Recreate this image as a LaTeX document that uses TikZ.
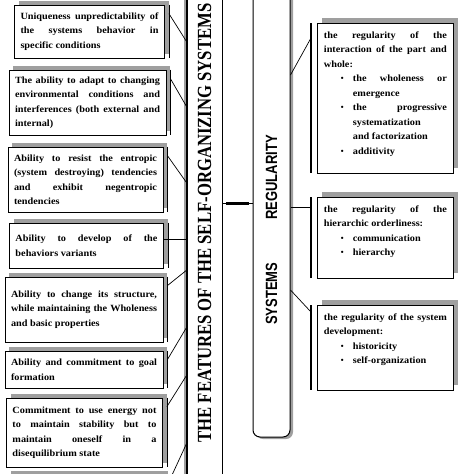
\documentclass[tikz,border=0pt]{standalone}
\usepackage{fontspec}
\setmainfont{Liberation Serif}
\setsansfont{Liberation Sans}
\newfontfamily\wideserif{Liberation Serif}[FakeStretch=1.08]
\usepackage{enumitem}
\usetikzlibrary{positioning,shadows}
\newcommand{\boxfont}{\wideserif\fontsize{9.5}{14.5}\selectfont\bfseries
  \hyphenpenalty=10000 \exhyphenpenalty=10000}
\newcommand{\barfont}{\fontsize{16.7}{20}\selectfont\bfseries}
\newcommand{\regfont}{\fontsize{13}{16}\selectfont\sffamily\bfseries}

\begin{document}
\begin{tikzpicture}[x=1pt, y=-1pt,
  feat/.style={draw, thick, fill=white, align=justify, text width=145pt,
               inner xsep=6pt, font=\boxfont,
               general shadow={fill=gray!75, shadow xshift=4pt, shadow yshift=4pt}},
  law/.style={draw, thick, fill=white, align=justify, text width=123pt,
              inner xsep=6.5pt, inner ysep=8pt, anchor=north west, font=\boxfont,
              general shadow={fill=gray!75, shadow xshift=5pt, shadow yshift=5pt}},
  fbar/.style={draw, thin, fill=white, minimum width=35pt, minimum height=500pt,
               general shadow={fill=gray!75, shadow xshift=-3pt}},
  rbar/.style={draw, line width=1pt, fill=white, rounded corners=7pt,
               minimum width=37pt, minimum height=448pt,
               general shadow={fill=gray!75, shadow xshift=3pt, shadow yshift=-2pt}},
  ln/.style={line width=0.7pt}]
\useasboundingbox (0,0) rectangle (474,474);

% the two bars
\node[fbar] (feat) at (204.5,240) {};
\draw[line width=1.6pt] (feat.north west) -- (feat.south west);
\node[rotate=90, font=\barfont] at (204.5,223)
  {\scalebox{1}[1.2]{THE FEATURES OF THE SELF-ORGANIZING SYSTEMS}};
\node[rbar] (reg) at (271.5,213) {};
\node[rotate=90, font=\regfont] at (271.5,230)
  {\scalebox{1}[1.25]{SYSTEMS\hspace{43pt}REGULARITY}};
\coordinate (lnk) at (0,203);
\draw[ln] (feat.east |- lnk) -- (reg.west |- lnk);
\draw[line width=3pt] ([xshift=4pt]feat.east |- lnk) -- ([xshift=-4pt]reg.west |- lnk);

% features
\node[feat, text width=138pt, minimum height=53pt] (l1) at (89.5,31.5)
  {Uniqueness unpredictability of\linebreak the systems behavior in\linebreak specific conditions};
\node[feat, minimum height=65pt] (l2) at (87.5,102.5)
  {The ability to adapt to changing\linebreak environmental conditions and\linebreak interferences (both external and\linebreak internal)};
\node[feat, text width=143pt, minimum height=65pt] (l3) at (85.5,179.5)
  {Ability to resist the entropic\linebreak (system destroying) tendencies\linebreak and exhibit negentropic\linebreak tendencies};
\node[feat, text width=142pt, minimum height=45pt] (l4) at (86.5,245.5)
  {Ability to develop of the\linebreak behaviors variants};
\node[feat, text width=146pt, minimum height=65pt] (l5) at (84,309.5)
  {Ability to change its structure,\linebreak while maintaining the Wholeness\linebreak and basic properties};
\node[feat, text width=146pt, minimum height=37pt] (l6) at (84,369.5)
  {Ability and commitment to goal\linebreak formation};
\node[feat, text width=144pt, minimum height=69pt] (l7) at (84.5,432.5)
  {Commitment to use energy not\linebreak to maintain stability but to\linebreak maintain oneself in a\linebreak disequilibrium state};
\node[feat, minimum height=60pt, anchor=north] (l8) at (85,475) {};
\foreach \b in {l1,l2,l3,l4,l5,l6,l7,l8}
  \draw[thick] ([xshift=4pt]\b.north east) -- ([xshift=4pt]\b.south east);
\foreach \b/\y in {l1/42,l2/107,l3/183,l5/270,l6/327,l7/375,l8/443}
  \draw[ln] ([xshift=4pt,yshift=-9pt]\b.north east) -- (feat.west |- 0,\y);
\draw[ln] ([yshift=6pt]l4.east) -- ([yshift=6pt]l4.east -| feat.west);

% regularities
\node[law, text depth=127pt] (r1) at (317,23) {the regularity of the\linebreak interaction of the part and\linebreak whole:
  \begin{itemize}[nosep, leftmargin=29pt, labelsep=9pt]
  \item the wholeness or emergence
  \item the progressive systematization\hfil\break and factorization
  \item additivity
  \end{itemize}};
\node[law, text depth=58pt] (r2) at (317,197) {the regularity of the\linebreak hierarchic orderliness:
  \begin{itemize}[nosep, leftmargin=29pt, labelsep=9pt]
  \item communication
  \item hierarchy
  \end{itemize}};
\node[law, text depth=62pt] (r3) at (317,305) {the regularity of the system\linebreak development:
  \begin{itemize}[nosep, leftmargin=29pt, labelsep=9pt]
  \item historicity
  \item self-organization
  \end{itemize}};
\foreach \b in {r1,r2,r3}
  \draw[line width=1.6pt] ([xshift=-6pt]\b.north west) -- ([xshift=-6pt]\b.south west);
\foreach \b/\y/\d in {r1/75/-15,r2/207/-10,r3/290/-7}
  \draw[ln] (reg.east |- 0,\y) -- ([xshift=-6pt,yshift=\d pt]\b.north west);
\end{tikzpicture}
\end{document}
